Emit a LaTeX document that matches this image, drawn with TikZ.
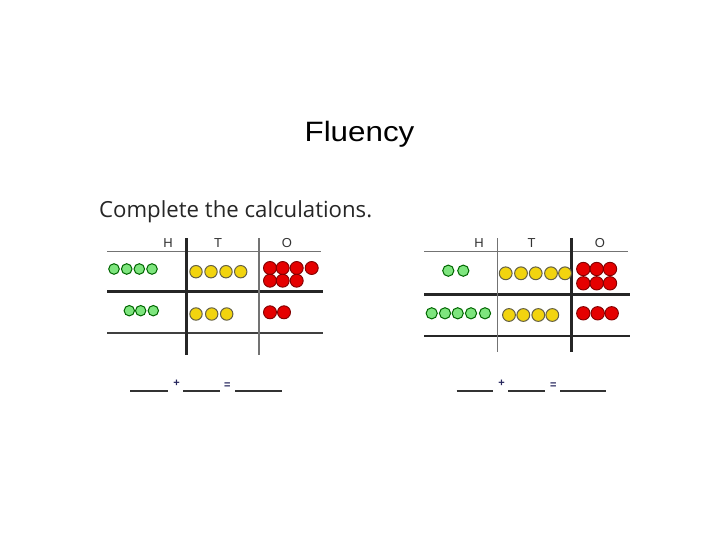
\documentclass[tikz,border=0pt]{standalone}
\usepackage{fontspec}
\setmainfont{Liberation Sans}
\newfontfamily\segoe{Open Sans}
\begin{document}
\begin{tikzpicture}[x=1pt,y=-1pt,
  thickline/.style={line width=2.8pt,draw=black!85},
  thinline/.style={line width=1.5pt,draw=black!55},
  midline/.style={line width=1.8pt,draw=black!75},
  hdr/.style={font=\fontsize{13}{13}\selectfont,text=black!80,inner sep=0pt},
  gdot/.style={fill=green!45!white!90!black,draw=green!40!black,line width=1pt},
  ydot/.style={fill=yellow!80!orange!95!black,draw=yellow!30!black,line width=1pt},
  rdot/.style={fill=red!90!black,draw=red!50!black,line width=0.9pt},
  blank/.style={line width=1.6pt,draw=black!80},
  sym/.style={font=\bfseries\fontsize{11}{11}\selectfont,text=blue!25!black!85,inner sep=0pt}]
\useasboundingbox (0,0) rectangle (720,540);
\fill[white] (0,0) rectangle (720,540);
% title
\node[inner sep=0pt,anchor=base] (title) at (359.5,141.7) {\scalebox{1.12}[1]{\fontsize{28}{28}\selectfont Fluency}};
% instruction
\node[inner sep=0pt,anchor=west,text=black!85] (instr) at (99,212) {\resizebox{273pt}{!}{\segoe Complete the calculations.}};
% ---- left table ----
\draw[thinline] (107,251.7) -- (321,251.7);
\draw[thickline] (107,291.7) -- (323,291.7);
\draw[midline] (107,333) -- (323,333);
\draw[thickline] (186.7,238) -- (186.7,355);
\draw[thinline] (259,238) -- (259,355);
\node[hdr] (lH) at (168,243.5) {H};
\node[hdr] (lT) at (218,243.5) {T};
\node[hdr] (lO) at (287,243.5) {O};
\foreach \x in {114,126.7,139.3,152} \draw[gdot] (\x,269) circle (5.3);
\foreach \x in {196,211,226,240.7} \draw[ydot] (\x,271.7) circle (6.2);
\foreach \x in {270,282.7,296.7,311.7} \draw[rdot] (\x,268) circle (6.5);
\foreach \x in {270,282.7,296.7} \draw[rdot] (\x,280.7) circle (6.5);
\foreach \x in {129.3,140.7,153.3} \draw[gdot] (\x,310.7) circle (5.2);
\foreach \x in {196,211.7,226.7} \draw[ydot] (\x,314) circle (6.2);
\foreach \x in {270,284} \draw[rdot] (\x,312.3) circle (6.5);
% blanks left
\coordinate (la1) at (130,390.7); \coordinate (la2) at (168.3,390.7);
\coordinate (lb1) at (183.3,390.7); \coordinate (lb2) at (220,390.7);
\coordinate (lc1) at (235,390.7); \coordinate (lc2) at (281.7,390.7);
\draw[blank] (la1) -- (la2); \draw[blank] (lb1) -- (lb2); \draw[blank] (lc1) -- (lc2);
\node[sym] (lplus) at (176.7,383) {+};
\node[sym] (leq) at (227.3,385.5) {=};
% ---- right table ----
\draw[thinline] (424,251.7) -- (628,251.7);
\draw[thickline] (424,294.3) -- (630,294.3);
\draw[thickline] (424,336) -- (630,336);
\draw[thinline] (497.7,238) -- (497.7,352);
\draw[thickline] (571.7,238) -- (571.7,352);
\node[hdr] (rH) at (479,243.5) {H};
\node[hdr] (rT) at (531.7,243.5) {T};
\node[hdr] (rO) at (600,243.5) {O};
\foreach \x in {448.3,463.3} \draw[gdot] (\x,270.7) circle (5.6);
\foreach \x in {505.7,521,535.7,551,565} \draw[ydot] (\x,273.3) circle (6.4);
\foreach \x in {583.3,596.7,610} {\draw[rdot] (\x,269) circle (6.7); \draw[rdot] (\x,283.3) circle (6.7);}
\foreach \x in {431.7,445,457.7,471,485} \draw[gdot] (\x,313.3) circle (5.6);
\foreach \x in {509,523.3,538.3,552.3} \draw[ydot] (\x,315) circle (6.4);
\foreach \x in {583.3,597.7,611.7} \draw[rdot] (\x,313.3) circle (6.7);
% blanks right
\coordinate (ra1) at (456.7,390.7); \coordinate (ra2) at (492.7,390.7);
\coordinate (rb1) at (508.3,390.7); \coordinate (rb2) at (545,390.7);
\coordinate (rc1) at (560,390.7); \coordinate (rc2) at (606,390.7);
\draw[blank] (ra1) -- (ra2); \draw[blank] (rb1) -- (rb2); \draw[blank] (rc1) -- (rc2);
\node[sym] (rplus) at (501.7,383) {+};
\node[sym] (req) at (553.3,385.5) {=};
\end{tikzpicture}
\end{document}
